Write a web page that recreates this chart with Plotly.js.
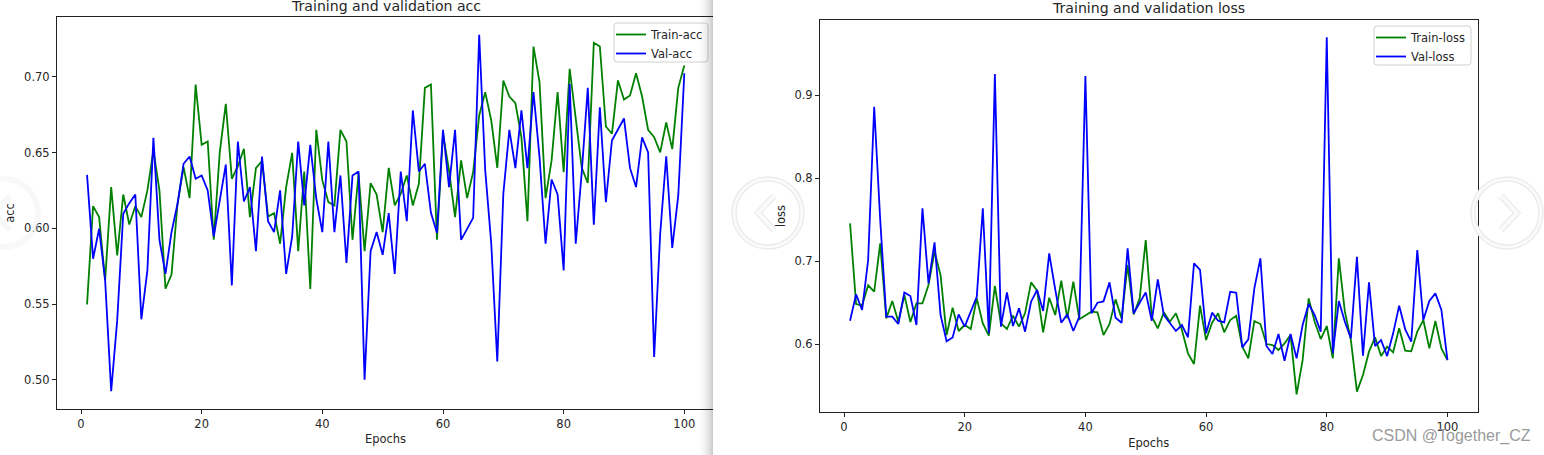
<!DOCTYPE html>
<html><head><meta charset="utf-8">
<script src="https://cdn.plot.ly/plotly-3.0.1.min.js"></script>
<style>html,body{margin:0;padding:0;background:#fff;overflow:hidden}#c{width:1544px;height:455px}</style>
</head><body><div id="c"></div>
<script>
const epochs=[1,2,3,4,5,6,7,8,9,10,11,12,13,14,15,16,17,18,19,20,21,22,23,24,25,26,27,28,29,30,31,32,33,34,35,36,37,38,39,40,41,42,43,44,45,46,47,48,49,50,51,52,53,54,55,56,57,58,59,60,61,62,63,64,65,66,67,68,69,70,71,72,73,74,75,76,77,78,79,80,81,82,83,84,85,86,87,88,89,90,91,92,93,94,95,96,97,98,99,100];
const trainAcc=[0.5498,0.6147,0.6075,0.5657,0.6273,0.5822,0.6224,0.6026,0.6147,0.6075,0.6251,0.6515,0.6251,0.5602,0.5696,0.6163,0.6405,0.62,0.695,0.6552,0.6574,0.5925,0.6504,0.6823,0.6328,0.6411,0.6526,0.6075,0.64,0.6444,0.6079,0.6101,0.5899,0.6273,0.6499,0.585,0.6376,0.56,0.6651,0.6317,0.6174,0.6152,0.6651,0.6574,0.5925,0.6361,0.585,0.6299,0.6224,0.5976,0.64,0.6152,0.6229,0.635,0.6152,0.6295,0.6928,0.695,0.5925,0.6625,0.6383,0.6075,0.6449,0.62,0.6372,0.6746,0.69,0.6713,0.64,0.6977,0.6871,0.6827,0.6603,0.6048,0.7201,0.6966,0.62,0.6449,0.69,0.6372,0.7054,0.6724,0.64,0.63,0.7226,0.7201,0.6673,0.6625,0.6977,0.6851,0.6878,0.7025,0.6871,0.6651,0.6603,0.6502,0.67,0.6524,0.6928,0.7076];
const valAcc=[0.6354,0.58,0.5998,0.5657,0.4926,0.5393,0.6097,0.6167,0.6224,0.54,0.5723,0.6598,0.5925,0.57,0.5976,0.6163,0.6427,0.6475,0.6328,0.635,0.6251,0.5947,0.6185,0.6422,0.5624,0.6574,0.6178,0.6273,0.585,0.6475,0.6048,0.5976,0.6251,0.57,0.5947,0.6574,0.6152,0.6552,0.6196,0.5976,0.6574,0.5976,0.635,0.5773,0.635,0.6376,0.5001,0.585,0.5976,0.5826,0.6101,0.57,0.6376,0.6048,0.6779,0.6376,0.6427,0.6103,0.5971,0.6651,0.6273,0.6651,0.5925,0.5998,0.607,0.7278,0.6383,0.5899,0.5122,0.6229,0.6651,0.6398,0.6779,0.6398,0.69,0.6471,0.5899,0.6323,0.6224,0.5723,0.6955,0.5899,0.6372,0.6928,0.6024,0.68,0.6174,0.6581,0.6651,0.6726,0.6398,0.6273,0.6601,0.6502,0.5151,0.5965,0.6477,0.5872,0.6218,0.7025];
const trainLoss=[0.7454,0.6482,0.6466,0.6707,0.663,0.7213,0.6309,0.6518,0.6269,0.659,0.6265,0.649,0.649,0.6711,0.7112,0.6831,0.6108,0.6438,0.6157,0.6229,0.6181,0.655,0.6249,0.61,0.6699,0.6249,0.6181,0.6341,0.6209,0.637,0.6743,0.6643,0.6141,0.6558,0.6349,0.6763,0.6309,0.6751,0.6297,0.6349,0.639,0.6382,0.6108,0.6241,0.6538,0.6309,0.6952,0.6357,0.655,0.7253,0.6329,0.6189,0.6382,0.6269,0.637,0.6169,0.5888,0.5759,0.6462,0.6048,0.6257,0.637,0.6141,0.6289,0.6341,0.5968,0.5827,0.6277,0.6241,0.6,0.5988,0.5928,0.6008,0.6108,0.5394,0.5807,0.655,0.6269,0.606,0.6217,0.5827,0.7032,0.639,0.6048,0.5426,0.5627,0.5908,0.608,0.5855,0.5968,0.59,0.6189,0.592,0.5912,0.6149,0.6289,0.5948,0.6277,0.5948,0.5807];
const valLoss=[0.6281,0.6598,0.641,0.7012,0.8859,0.7494,0.6329,0.6329,0.6241,0.6622,0.6578,0.6229,0.7635,0.6731,0.7225,0.6349,0.6032,0.608,0.6357,0.6209,0.639,0.657,0.7635,0.6129,0.9253,0.6209,0.6622,0.6217,0.643,0.6149,0.651,0.6651,0.6398,0.7092,0.6659,0.6257,0.6357,0.6157,0.6329,0.9229,0.637,0.6498,0.6514,0.6743,0.6317,0.6257,0.7153,0.637,0.6498,0.6622,0.6281,0.6779,0.6349,0.6249,0.6157,0.6229,0.608,0.6972,0.6892,0.6129,0.6378,0.6281,0.6261,0.663,0.6618,0.596,0.6056,0.6671,0.7032,0.5976,0.588,0.612,0.5799,0.612,0.5827,0.6229,0.6482,0.6349,0.6149,0.9695,0.5888,0.6518,0.6269,0.6068,0.7052,0.5859,0.6743,0.5976,0.6048,0.5855,0.6129,0.6462,0.6177,0.6028,0.7133,0.6289,0.6518,0.661,0.641,0.5807];
const accTicks=[0.50,0.55,0.60,0.65,0.70];
const lossTicks=[0.6,0.7,0.8,0.9];
const xTicks=[0,20,40,60,80,100];

const W=1544,H=455,FONT='"DejaVu Sans", sans-serif',INK='#262626';
const px=x=>x/W, py=y=>1-y/H;
const line=c=>({color:c,width:1.8});
const tr=(y,name,c,xa,ya,leg)=>({x:epochs,y:y,name:name,type:'scatter',mode:'lines',line:line(c),xaxis:xa,yaxis:ya,legend:leg,hoverinfo:'skip'});
const data=[
 tr(trainAcc,'Train-acc','green','x','y','legend'),
 tr(valAcc,'Val-acc','blue','x','y','legend'),
 tr(trainLoss,'Train-loss','green','x2','y2','legend2'),
 tr(valLoss,'Val-loss','blue','x2','y2','legend2')
];
const tf={family:FONT,size:11.5,color:INK};
const axBase={showgrid:false,zeroline:false,showline:true,mirror:true,linecolor:'#222',linewidth:1,ticks:'outside',ticklen:4,tickwidth:1,tickcolor:'#222',tickfont:tf,automargin:false};
const rect=(x0,x1,y0,y1,fill,op)=>({type:'rect',xref:'paper',yref:'paper',x0:px(x0),x1:px(x1),y0:py(y1),y1:py(y0),fillcolor:fill,opacity:op,line:{width:0},layer:'above'});
function rrect(x0,y0,x1,y1,r){const X=px,Y=py;return {type:'path',xref:'paper',yref:'paper',layer:'above',fillcolor:'rgba(255,255,255,0.8)',line:{color:'#d0d0d0',width:1},
 path:`M${X(x0+r)},${Y(y0)} L${X(x1-r)},${Y(y0)} Q${X(x1)},${Y(y0)} ${X(x1)},${Y(y0+r)} L${X(x1)},${Y(y1-r)} Q${X(x1)},${Y(y1)} ${X(x1-r)},${Y(y1)} L${X(x0+r)},${Y(y1)} Q${X(x0)},${Y(y1)} ${X(x0)},${Y(y1-r)} L${X(x0)},${Y(y0+r)} Q${X(x0)},${Y(y0)} ${X(x0+r)},${Y(y0)} Z`};}
function ring(cx,cy,dir,op){
 const s=[];
 const circ=(r,c,w)=>({type:'circle',xref:'paper',yref:'paper',layer:'above',x0:px(cx-r),x1:px(cx+r),y0:py(cy+r),y1:py(cy-r),fillcolor:'rgba(0,0,0,0)',opacity:op,line:{color:c,width:w}});
 const chev=(c,w)=>({type:'path',xref:'paper',yref:'paper',layer:'above',opacity:op,line:{color:c,width:w},
  path:`M${px(cx+dir*-6)},${py(cy-17)} L${px(cx+dir*10)},${py(cy)} L${px(cx+dir*-6)},${py(cy+17)}`});
 s.push(circ(34,'#ececec',5.5),circ(34,'#fbfbfb',2.5),chev('#ececec',6.5),chev('#fafafa',4));
 return s;
}
const shapes=[
 rrect(614,23,708,62,3),
 rrect(1374,26,1471,65,3),
 rect(713,760,0,H,'#fff',1)
];
for(let i=0;i<16;i++){shapes.push(rect(697+i,698+i,0,H,'#000',0.012*(i+1)*(i+1)/16+0.003));}
shapes.push(...ring(768,213,-1,1),...ring(1507,213,1,1),...ring(4,213,-1,0.35));
const layout={
 width:W,height:H,margin:{l:0,r:0,t:0,b:0},paper_bgcolor:'#fff',plot_bgcolor:'#fff',showlegend:true,
 font:{family:FONT,color:INK},
 xaxis:Object.assign({},axBase,{domain:[px(57),px(714)],range:[-3.98,104.92],tickvals:xTicks,anchor:'y',title:{text:'Epochs',font:tf,standoff:5}}),
 yaxis:Object.assign({},axBase,{domain:[py(409),py(17)],range:[0.4808,0.7396],tickvals:accTicks,ticktext:['0.50','0.55','0.60','0.65','0.70'],anchor:'x',title:{text:'acc',font:tf,standoff:7}}),
 xaxis2:Object.assign({},axBase,{domain:[px(820),px(1477.5)],range:[-3.98,104.98],tickvals:xTicks,anchor:'y2',title:{text:'Epochs',font:tf,standoff:6}}),
 yaxis2:Object.assign({},axBase,{domain:[py(412),py(20)],range:[0.5181,0.9904],tickvals:lossTicks,ticktext:['0.6','0.7','0.8','0.9'],anchor:'x2',title:{text:'loss',font:tf,standoff:6}}),
 legend:{x:px(611),xanchor:'left',y:py(20),yanchor:'top',bgcolor:'rgba(0,0,0,0)',borderwidth:0,font:{family:FONT,size:11.5,color:INK},tracegroupgap:0},
 legend2:{x:px(1371),xanchor:'left',y:py(23),yanchor:'top',bgcolor:'rgba(0,0,0,0)',borderwidth:0,font:{family:FONT,size:11.5,color:INK},tracegroupgap:0},
 shapes:shapes,
 annotations:[
  {xref:'paper',yref:'paper',x:px(385.5),y:py(6),text:'Training and validation acc',showarrow:false,xanchor:'center',yanchor:'middle',font:{family:FONT,size:14.1,color:INK}},
  {xref:'paper',yref:'paper',x:px(1148.5),y:py(8),text:'Training and validation loss',showarrow:false,xanchor:'center',yanchor:'middle',font:{family:FONT,size:14.1,color:INK}},
  {xref:'paper',yref:'paper',x:px(1451),y:py(436),text:'CSDN @Together_CZ',showarrow:false,xanchor:'center',yanchor:'middle',font:{family:'"Liberation Sans", sans-serif',size:16,color:'#9a9a9a'}}
 ]
};
Plotly.newPlot('c',data,layout,{displayModeBar:false,staticPlot:true});
</script></body></html>
